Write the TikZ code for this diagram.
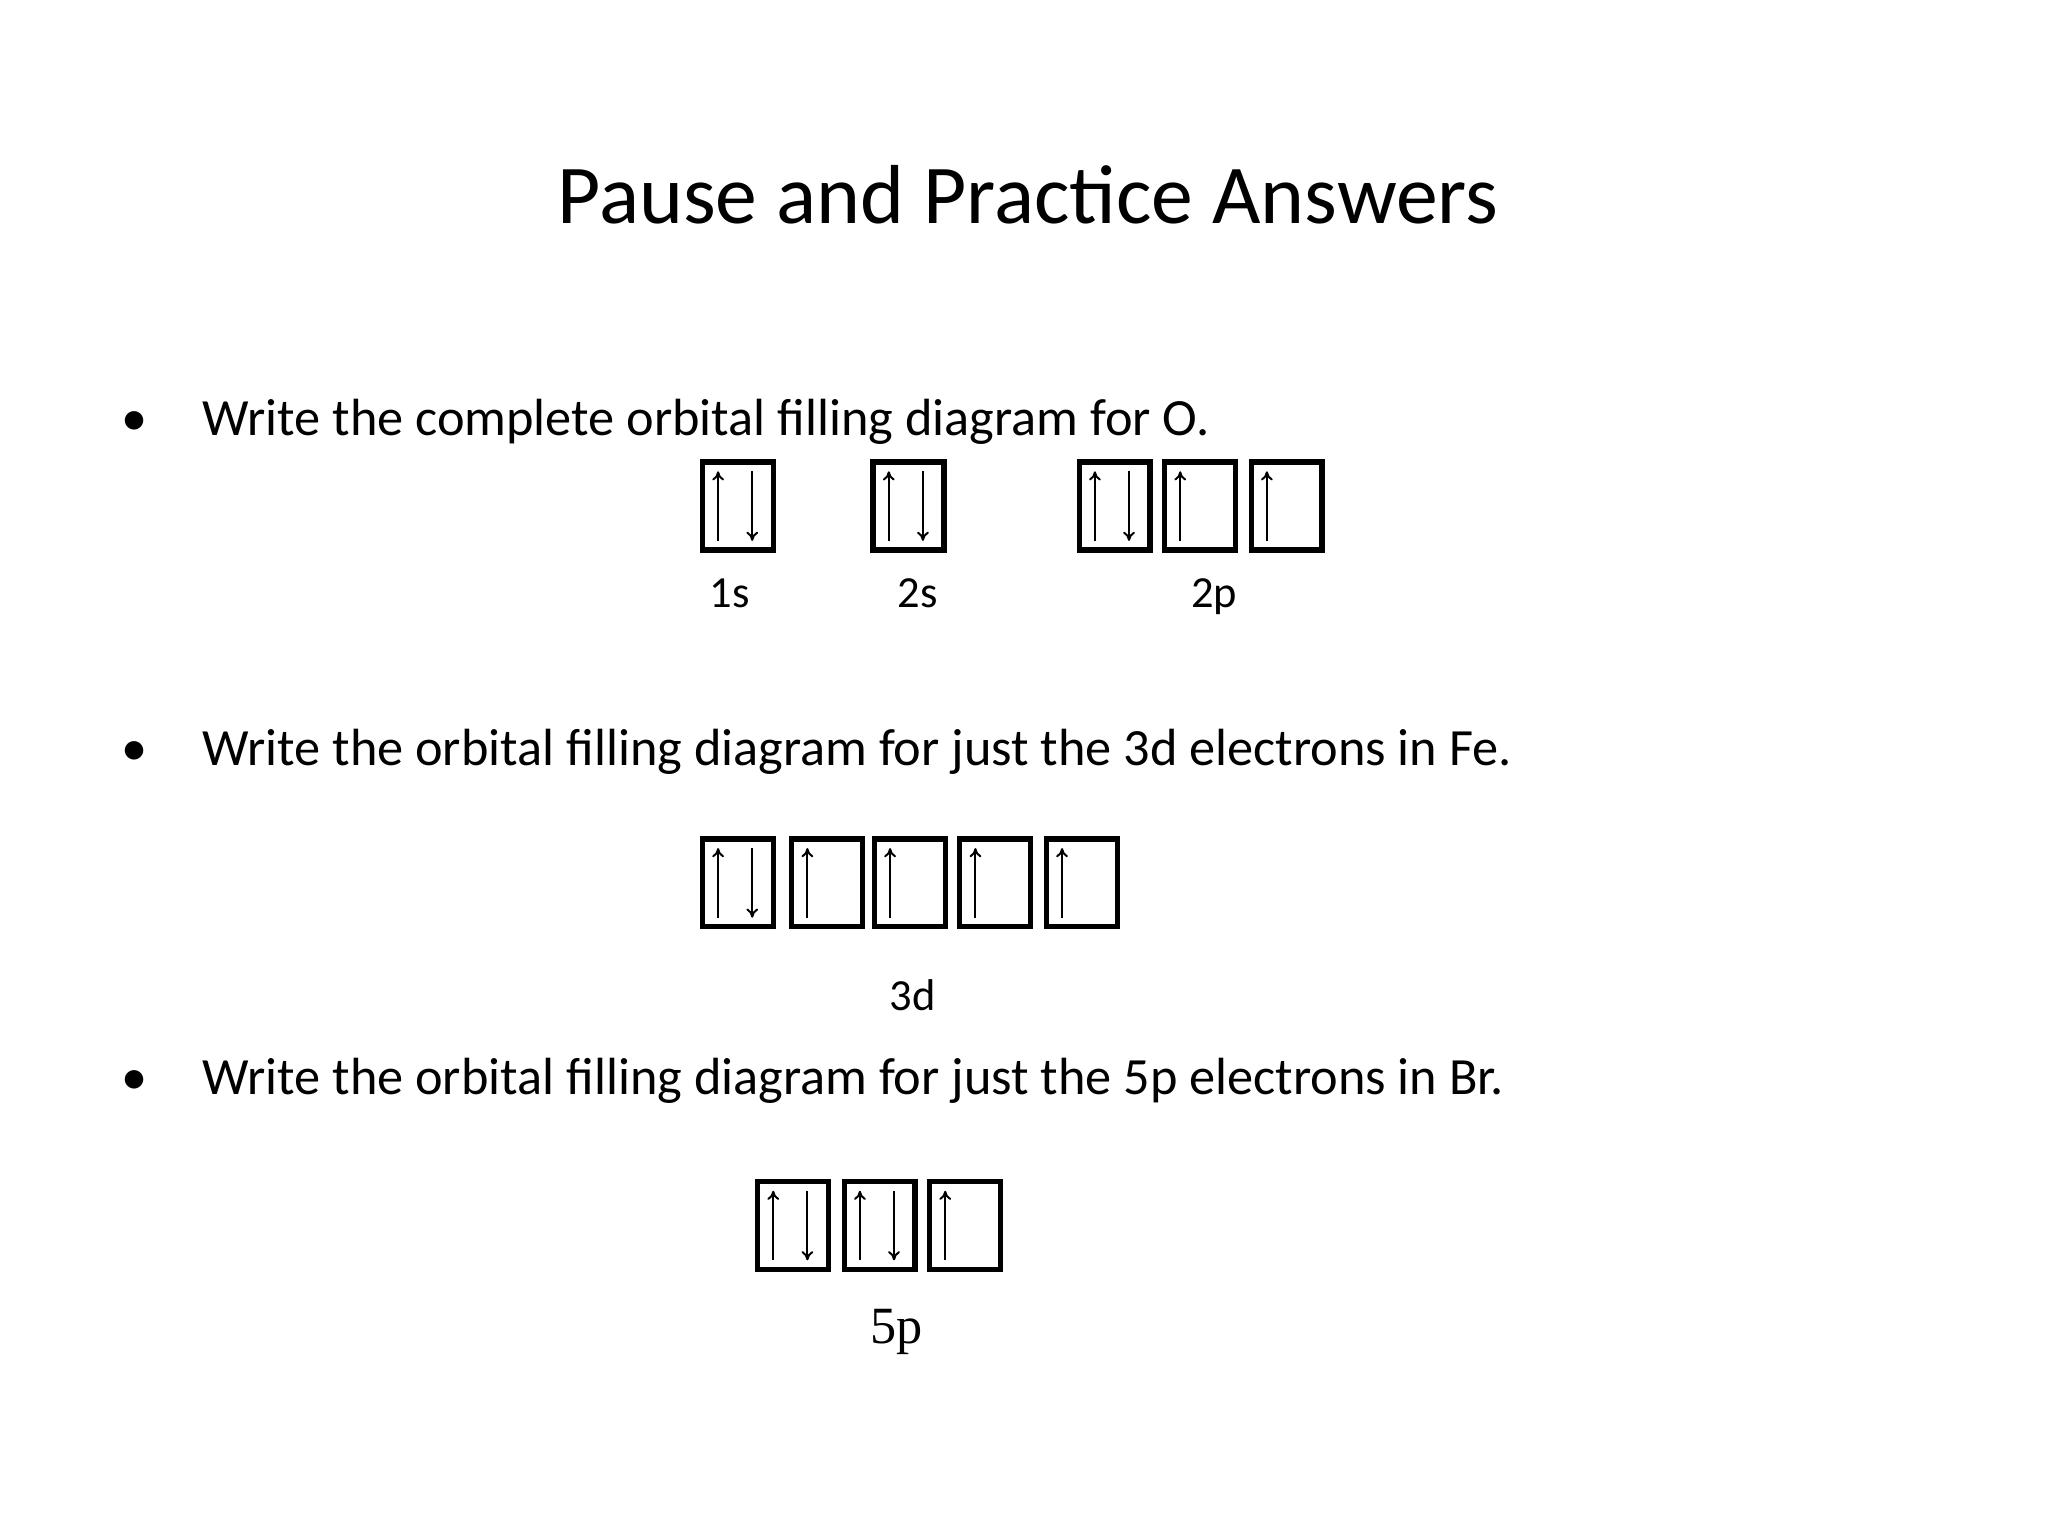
\documentclass[tikz,border=0pt]{standalone}
\usepackage{fontspec}
\setmainfont{Carlito}
\newfontfamily\serifb{Liberation Serif}
\usetikzlibrary{arrows.meta}
\begin{document}
\begin{tikzpicture}[x=1bp,y=-1bp,
  orb/.style={draw,line width=4bp},
  el/.style={line width=1.5bp,-{To[length=7bp,width=9bp]}},
  txt/.style={anchor=base west,inner sep=0pt,font=\fontsize{40}{44}\selectfont},
  lab/.style={anchor=base,inner sep=0pt,font=\fontsize{34}{38}\selectfont}]
\useasboundingbox (0,0) rectangle (1560,1170);
\node[anchor=base,inner sep=0pt,font=\fontsize{64}{70}\selectfont] (title) at (783,170) {Pause and Practice Answers};
\foreach \y/\t [count=\i] in {332/{Write the complete orbital filling diagram for O.},583/{Write the orbital filling diagram for just the 3d electrons in Fe.},834/{Write the orbital filling diagram for just the 5p electrons in Br.}}{
  \node[txt] (b\i) at (92,\y) {•};
  \node[txt] (t\i) at (154,\y) {\t};
}
\foreach \x/\top/\n in {535/352/2,665/352/2,822/352/2,887/352/1,953/352/1,
  535/639/2,603/639/1,666/639/1,731/639/1,797/639/1,
  577/900/2,643/900/2,708/900/1}{
  \draw[orb] (\x,\top) rectangle ++(54,67);
  \draw[el] (\x+12,\top+60) -- (\x+12,\top+7);
  \ifnum\n=2 \draw[el] (\x+38,\top+7) -- (\x+38,\top+60); \fi
}
\node[lab] (l1s) at (556,463) {1s};
\node[lab] (l2s) at (699,463) {2s};
\node[lab] (l2p) at (925,463) {2p};
\node[lab] (l3d) at (695,770) {3d};
\node[lab,font=\serifb\fontsize{40}{44}\selectfont] (l5p) at (683,1023) {5p};
\end{tikzpicture}
\end{document}
